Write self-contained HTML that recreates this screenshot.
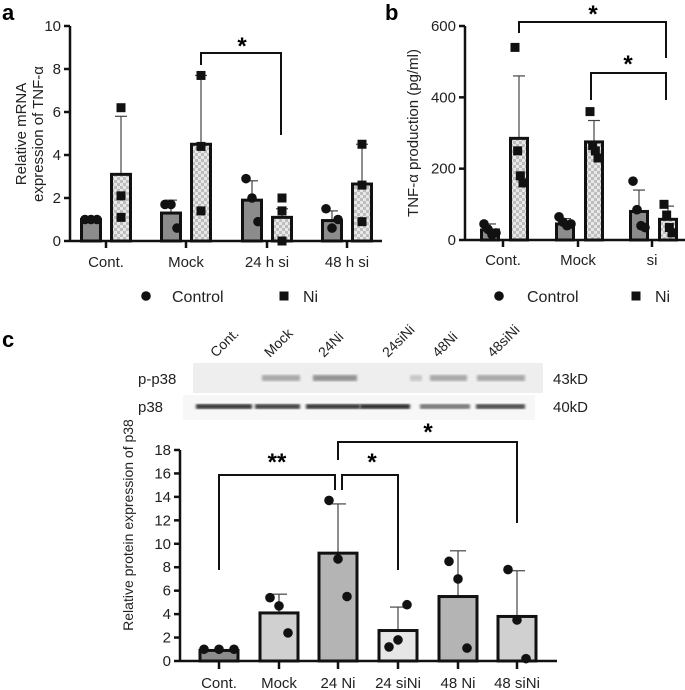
<!DOCTYPE html>
<html><head><meta charset="utf-8">
<style>
body{margin:0;background:#fff;}
svg{display:block;font-family:"Liberation Sans",sans-serif;}
</style></head>
<body>
<svg id="fig" width="685" height="690" viewBox="0 0 685 690">
<defs>
<pattern id="chk" width="6" height="6" patternUnits="userSpaceOnUse">
<rect width="6" height="6" fill="#e8e8e8"/><rect width="3" height="3" fill="#bdbdbd"/><rect x="3" y="3" width="3" height="3" fill="#bdbdbd"/>
</pattern>
<filter id="blur"><feGaussianBlur stdDeviation="1.2"/></filter>
</defs>
<text x="2" y="20" font-size="22" font-weight="bold">a</text>
<text x="385" y="20" font-size="22" font-weight="bold">b</text>
<text x="2" y="347" font-size="22" font-weight="bold">c</text>
<g id="ga"></g><g id="gb"></g><g id="gc"></g>
</svg>
<script>
// Panel a data
const aCats = ["Cont.", "Mock", "24 h si", "48 h si"];
const aCtrlMean = [1.0, 1.3, 1.9, 0.95];
const aCtrlErr = [1.0, 1.9, 2.8, 1.4];
const aCtrlPts = [[1, 1, 1], [1.7, 1.7, 0.6], [2.9, 2.0, 0.9], [1.5, 0.6, 1.0]];
const aNiMean = [3.1, 4.5, 1.1, 2.65];
const aNiErr = [5.8, 7.7, 1.5, 4.5];
const aNiPts = [[6.2, 2.1, 1.1], [7.7, 4.4, 1.4], [2.0, 1.4, 0.0], [4.5, 2.6, 0.9]];
const aTicks = [0, 2, 4, 6, 8, 10];
// Panel b data
const bCats = ["Cont.", "Mock", "si"];
const bCtrlMean = [28, 45, 80];
const bCtrlErr = [45, 60, 140];
const bCtrlPts = [[45, 30, 15, 20], [65, 50, 40, 45], [165, 85, 40, 35]];
const bNiMean = [285, 275, 58];
const bNiErr = [460, 335, 95];
const bNiPts = [[540, 250, 180, 160], [360, 265, 250, 230], [100, 70, 35, 20]];
const bTicks = [0, 200, 400, 600];
// Panel c data
const cCats = ["Cont.", "Mock", "24 Ni", "24 siNi", "48 Ni", "48 siNi"];
const cMean = [0.9, 4.1, 9.2, 2.6, 5.5, 3.8];
const cErr = [0.9, 5.7, 13.4, 4.6, 9.4, 7.7];
const cPts = [[1, 1, 1], [5.4, 4.7, 2.4], [13.7, 8.7, 5.5], [1.2, 1.8, 4.8], [8.5, 7.0, 1.1], [7.8, 3.5, 0.2]];
const cFills = ["#8c8c8c", "#d0d0d0", "#b4b4b4", "#e6e6e6", "#b4b4b4", "#d0d0d0"];
const cTicks = [0, 2, 4, 6, 8, 10, 12, 14, 16, 18];
const lanes = ["Cont.", "Mock", "24Ni", "24siNi", "48Ni", "48siNi"];

const NS = "http://www.w3.org/2000/svg";
function mk(parent, tag, attrs, txt) {
  const e = document.createElementNS(NS, tag);
  for (const k in attrs) e.setAttribute(k, attrs[k]);
  if (txt !== undefined) e.textContent = txt;
  parent.appendChild(e);
  return e;
}
function line(g, x1, y1, x2, y2, w) { return mk(g, "line", {x1, y1, x2, y2, stroke: "#111", "stroke-width": w || 1}); }

function axisY(g, x0, yScale, ticks, xEnd, y0) {
  const ax = line(g, x0, yScale(ticks[ticks.length - 1]), x0, y0, 2.5);
  
  
  ticks.forEach(t => {
    const y = yScale(t);
    line(g, x0 - 6, y, x0, y, 2.5);
    const tl = mk(g, "text", {x: x0 - 9, y: y + 5, "font-size": 15, "text-anchor": "end", fill: "#222"}, t);
    
    
  });
  const xa = line(g, x0, y0, xEnd, y0, 2.5);
  
  
}
function bar(g, cx, w, top, y0, fill, name) {
  const r = mk(g, "rect", {x: cx - w / 2, y: top, width: w, height: Math.max(0, y0 - top), fill, stroke: "#111", "stroke-width": 3});
  
  
}
function err(g, cx, top, yMean, cap) {
  line(g, cx, top, cx, yMean, 1.2).setAttribute('stroke', '#444');
  line(g, cx - cap, top, cx + cap, top, 1.2).setAttribute('stroke', '#444');
}
function dot(g, x, y, sq) {
  let e;
  if (sq) e = mk(g, "rect", {x: x - 4.5, y: y - 4.5, width: 9, height: 9, fill: "#111"});
  else e = mk(g, "circle", {cx: x, cy: y, r: 4.8, fill: "#111"});
  
  
}
function spread(i, n, w) { return n === 1 ? 0 : (i / (n - 1) - 0.5) * w; }
function star(g, x, y, s) {
  const t = mk(g, "text", {x, y, "font-size": 24, "font-weight": "bold", "text-anchor": "middle"}, s);
  
  
}

// ---------- Panel a ----------
(function () {
  const g = document.getElementById("ga");
  const x0 = 70, y0 = 241, xs = [106, 186, 267, 347];
  const ys = v => y0 - v * 21.5;
  axisY(g, x0, ys, aTicks, 382, y0);
  aCats.forEach((c, i) => {
    const xc = xs[i] - 15, xn = xs[i] + 15;
    err(g, xc, ys(aCtrlErr[i]), ys(aCtrlMean[i]), 6);
    err(g, xn, ys(aNiErr[i]), ys(aNiMean[i]), 6);
    bar(g, xc, 19, ys(aCtrlMean[i]), y0, "#8c8c8c", "control-bar");
    bar(g, xn, 19, ys(aNiMean[i]), y0, "url(#chk)", "ni-bar");
    aCtrlPts[i].forEach((v, j) => dot(g, xc + spread(j, aCtrlPts[i].length, 12), ys(v), false));
    aNiPts[i].forEach((v) => dot(g, xn, ys(v), true));
    line(g, xs[i], y0, xs[i], y0 + 7, 2.5);
    const t = mk(g, "text", {x: xs[i], y: 267, "font-size": 15, "text-anchor": "middle", fill: "#222"}, c);
    
    
  });
  // bracket
  const p = mk(g, "path", {d: "M201 65 V53 H281 V135", fill: "none", stroke: "#111", "stroke-width": 2});
  
  
  star(g, 242, 54, "*");
  const yt = mk(g, "text", {transform: "translate(26,134) rotate(-90)", "font-size": 15, "text-anchor": "middle", fill: "#222"});
  
  
  mk(yt, "tspan", {x: 0, dy: 0}, "Relative mRNA");
  mk(yt, "tspan", {x: 0, dy: 17}, "expression of TNF-α");
  // legend
  dot(g, 146, 296, false); 
  mk(g, "text", {x: 172, y: 302, "font-size": 16, fill: "#222"}, "Control");
  dot(g, 284, 296, true);
  mk(g, "text", {x: 303, y: 302, "font-size": 16, fill: "#222"}, "Ni");
})();

// ---------- Panel b ----------
(function () {
  const g = document.getElementById("gb");
  const x0 = 465, y0 = 240, xs = [503, 578, 652];
  const ys = v => y0 - v * (214 / 600);
  axisY(g, x0, ys, bTicks, 685, y0);
  bCats.forEach((c, i) => {
    const xc = xs[i] - 13, xn = xs[i] + 16;
    err(g, xc, ys(bCtrlErr[i]), ys(bCtrlMean[i]), 6);
    err(g, xn, ys(bNiErr[i]), ys(bNiMean[i]), 6);
    bar(g, xc, 17, ys(bCtrlMean[i]), y0, "#8c8c8c", "control-bar");
    bar(g, xn, 17, ys(bNiMean[i]), y0, "url(#chk)", "ni-bar");
    bCtrlPts[i].forEach((v, j) => dot(g, xc + spread(j, bCtrlPts[i].length, 12), ys(v), false));
    bNiPts[i].forEach((v, j) => dot(g, xn + spread(j, bNiPts[i].length, 8), ys(v), true));
    line(g, xs[i], y0, xs[i], y0 + 7, 2.5);
    const t = mk(g, "text", {x: xs[i], y: 265, "font-size": 15, "text-anchor": "middle", fill: "#222"}, c);
    
    
  });
  const p1 = mk(g, "path", {d: "M519 33 V22 H666 V58 M591 100 V73 H666 V100", fill: "none", stroke: "#111", "stroke-width": 2});
  
  
  star(g, 593, 22, "*");
  star(g, 628, 72, "*");
  const yt = mk(g, "text", {transform: "translate(418,133) rotate(-90)", "font-size": 15, "text-anchor": "middle", fill: "#222"}, "TNF-α production (pg/ml)");
  
  
  dot(g, 499, 296, false);
  mk(g, "text", {x: 527, y: 302, "font-size": 16, fill: "#222"}, "Control");
  dot(g, 636, 296, true);
  mk(g, "text", {x: 655, y: 302, "font-size": 16, fill: "#222"}, "Ni");
})();

// ---------- Panel c ----------
(function () {
  const g = document.getElementById("gc");
  // blot
  const laneX = [228, 282, 336, 400, 450, 505];
  lanes.forEach((l, i) => {
    const t = mk(g, "text", {transform: `translate(${laneX[i] - 12},358) rotate(-45)`, "font-size": 14, fill: "#222"}, l);
    
    
  });
  const b1 = mk(g, "rect", {x: 193, y: 363, width: 350, height: 30, fill: "#eeeeee"});
  
  
  const b2 = mk(g, "rect", {x: 183, y: 395, width: 352, height: 25, fill: "#f7f7f7"});
  
  
  const pBands = [[262, 300, 0.45], [313, 357, 0.6], [410, 422, 0.25], [430, 467, 0.45], [477, 525, 0.45]];
  pBands.forEach(b => mk(g, "rect", {x: b[0], y: 375, width: b[1] - b[0], height: 6, fill: "#555", opacity: b[2], filter: "url(#blur)"}));
  const tBands = [[196, 252, 0.9], [255, 300, 0.85], [306, 360, 0.9], [360, 410, 0.95], [420, 470, 0.6], [476, 525, 0.8]];
  tBands.forEach(b => mk(g, "rect", {x: b[0], y: 404, width: b[1] - b[0], height: 5, fill: "#222", opacity: b[2], filter: "url(#blur)"}));
  mk(g, "text", {x: 138, y: 384, "font-size": 15, fill: "#222"}, "p-p38");
  mk(g, "text", {x: 138, y: 412, "font-size": 15, fill: "#222"}, "p38");
  mk(g, "text", {x: 553, y: 384, "font-size": 15, fill: "#222"}, "43kD");
  mk(g, "text", {x: 553, y: 412, "font-size": 15, fill: "#222"}, "40kD");

  const x0 = 180, y0 = 661, xs = [219, 279, 338, 398, 458, 517];
  const ys = v => y0 - v * (211 / 18);
  axisY(g, x0, ys, cTicks, 557, y0);
  cCats.forEach((c, i) => {
    err(g, xs[i], ys(cErr[i]), ys(cMean[i]), 8);
    bar(g, xs[i], 38, ys(cMean[i]), y0, cFills[i], "protein-bar");
    cPts[i].forEach((v, j) => dot(g, xs[i] + spread(j, cPts[i].length, 30) * (i === 0 ? 1 : (j === 1 ? 0 : 0.6)), ys(v), false));
    line(g, xs[i], y0, xs[i], y0 + 8, 2.5);
    const t = mk(g, "text", {x: xs[i], y: 688, "font-size": 15, "text-anchor": "middle", fill: "#222"}, c);
    
    
  });
  const p = mk(g, "path", {d: "M219 570 V475 H335 V490 M342 490 V475 H398 V570 M338 460 V442 H517 V523", fill: "none", stroke: "#111", "stroke-width": 2});
  
  
  star(g, 277, 470, "**");
  star(g, 372, 470, "*");
  star(g, 428, 440, "*");
  const yt = mk(g, "text", {transform: "translate(133,525) rotate(-90)", "font-size": 14, "text-anchor": "middle", fill: "#222"}, "Relative protein expression of p38");
  
  
})();
</script>
</body></html>
